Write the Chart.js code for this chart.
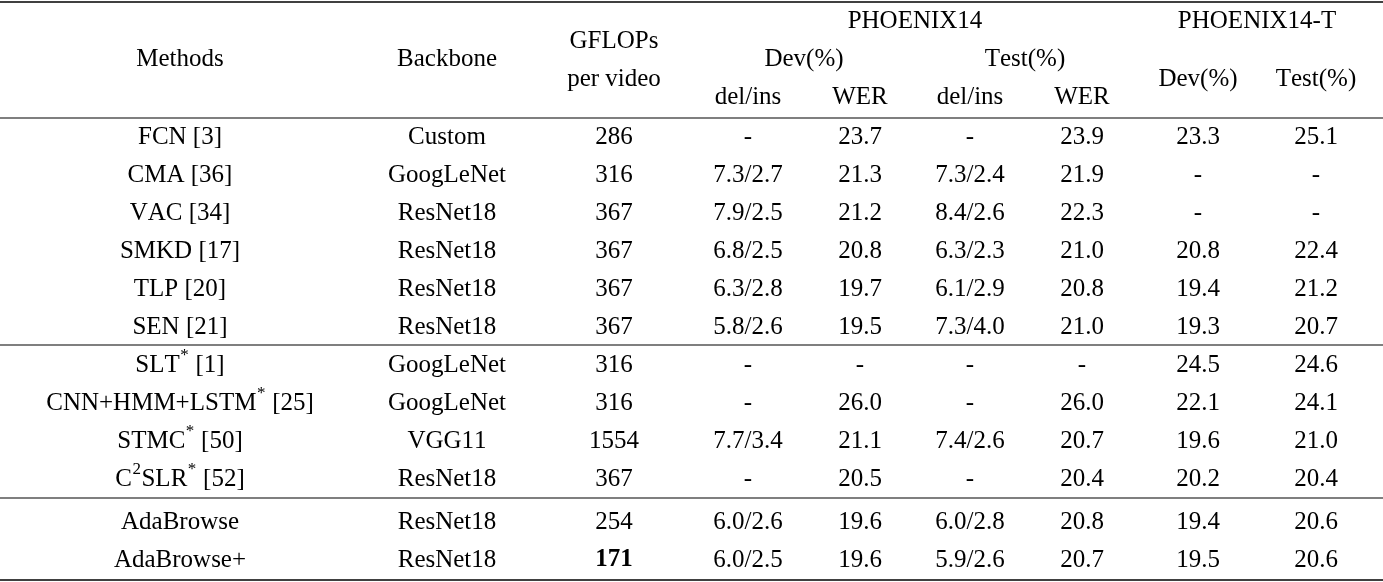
<!DOCTYPE html>
<html><head><meta charset="utf-8">
<script src="https://cdn.jsdelivr.net/npm/chart.js@4"></script>
<style>html,body{margin:0;padding:0;background:#fff}#w{width:1383px;height:582px}</style>
</head><body><div id="w"><canvas id="c"></canvas></div>
<script>
const methods = ["FCN [3]","CMA [36]","VAC [34]","SMKD [17]","TLP [20]","SEN [21]","SLT^* [1]","CNN+HMM+LSTM^* [25]","STMC^* [50]","C^2SLR^* [52]","AdaBrowse","AdaBrowse+"];
const backbones = ["Custom","GoogLeNet","ResNet18","ResNet18","ResNet18","ResNet18","GoogLeNet","GoogLeNet","VGG11","ResNet18","ResNet18","ResNet18"];
const gflops = ["286","316","367","367","367","367","316","316","1554","367","254","171"];
const devDelIns = ["-","7.3/2.7","7.9/2.5","6.8/2.5","6.3/2.8","5.8/2.6","-","-","7.7/3.4","-","6.0/2.6","6.0/2.5"];
const devWER = ["23.7","21.3","21.2","20.8","19.7","19.5","-","26.0","21.1","20.5","19.6","19.6"];
const testDelIns = ["-","7.3/2.4","8.4/2.6","6.3/2.3","6.1/2.9","7.3/4.0","-","-","7.4/2.6","-","6.0/2.8","5.9/2.6"];
const testWER = ["23.9","21.9","22.3","21.0","20.8","21.0","-","26.0","20.7","20.4","20.8","20.7"];
const tDev = ["23.3","-","-","20.8","19.4","19.3","24.5","22.1","19.6","20.2","19.4","19.5"];
const tTest = ["25.1","-","-","22.4","21.2","20.7","24.6","24.1","21.0","20.4","20.6","20.6"];
const columns = [methods, backbones, gflops, devDelIns, devWER, testDelIns, testWER, tDev, tTest];
const colX = [180, 447, 614, 748, 860, 970, 1082, 1198, 1316];
const rowY = [137,175,213,251,289,327,365,403,441,479,522,560];
const headers = [
 ["Methods",180,59],["Backbone",447,59],["GFLOPs",614,41],["per video",614,79],
 ["PHOENIX14",915,21],["PHOENIX14-T",1257,21],["Dev(%)",804,59],["Test(%)",1025,59],
 ["Dev(%)",1198,79],["Test(%)",1316,79],
 ["del/ins",748,97],["WER",860,97],["del/ins",970,97],["WER",1082,97]];
const rules = [[2,1.6],[118,1.1],[345,1.1],[498,1.1],[580,1.6]];
const FONT = '"Liberation Serif", "DejaVu Serif", serif';

function drawRich(ctx, text, x, y, bold){
  const segs=[]; for(let i=0;i<text.length;i++){ if(text[i]==='^'){segs.push([text[i+1],true]);i++;} else segs.push([text[i],false]); }
  const f=(s)=>(bold?'bold ':'')+(s?'17px ':'25px ')+FONT;
  let w=0; segs.forEach(s=>{ctx.font=f(s[1]);w+=ctx.measureText(s[0]).width+(s[1]?1:0);});
  let cx=x-w/2; ctx.textAlign='left'; ctx.textBaseline='middle';
  segs.forEach(s=>{ctx.font=f(s[1]);ctx.fillText(s[0],cx+(s[1]?0.5:0),s[1]?y-9:y);cx+=ctx.measureText(s[0]).width+(s[1]?1:0);});
}
const tablePlugin={id:'table',afterDraw(chart){
  const ctx=chart.ctx, xs=chart.scales.x, ys=chart.scales.y;
  ctx.save(); ctx.fillStyle='#000'; ctx.strokeStyle='#000';
  rules.forEach(([y,t])=>{ctx.lineWidth=t;ctx.beginPath();ctx.moveTo(xs.getPixelForValue(0),ys.getPixelForValue(y));ctx.lineTo(xs.getPixelForValue(1383),ys.getPixelForValue(y));ctx.stroke();});
  headers.forEach(([t,x,y])=>drawRich(ctx,t,xs.getPixelForValue(x),ys.getPixelForValue(y),false));
  columns.forEach((col,ci)=>col.forEach((t,ri)=>drawRich(ctx,t,xs.getPixelForValue(colX[ci]),ys.getPixelForValue(rowY[ri]),ci===2&&ri===11)));
  ctx.restore();
}};
new Chart(document.getElementById('c'),{type:'scatter',data:{datasets:[{data:[]}]},
 options:{responsive:true,maintainAspectRatio:false,animation:false,layout:{padding:0},
  plugins:{legend:{display:false},tooltip:{enabled:false}},
  scales:{x:{type:'linear',min:0,max:1383,display:false},y:{type:'linear',min:0,max:582,reverse:true,display:false}}},
 plugins:[tablePlugin]});
</script></body></html>
